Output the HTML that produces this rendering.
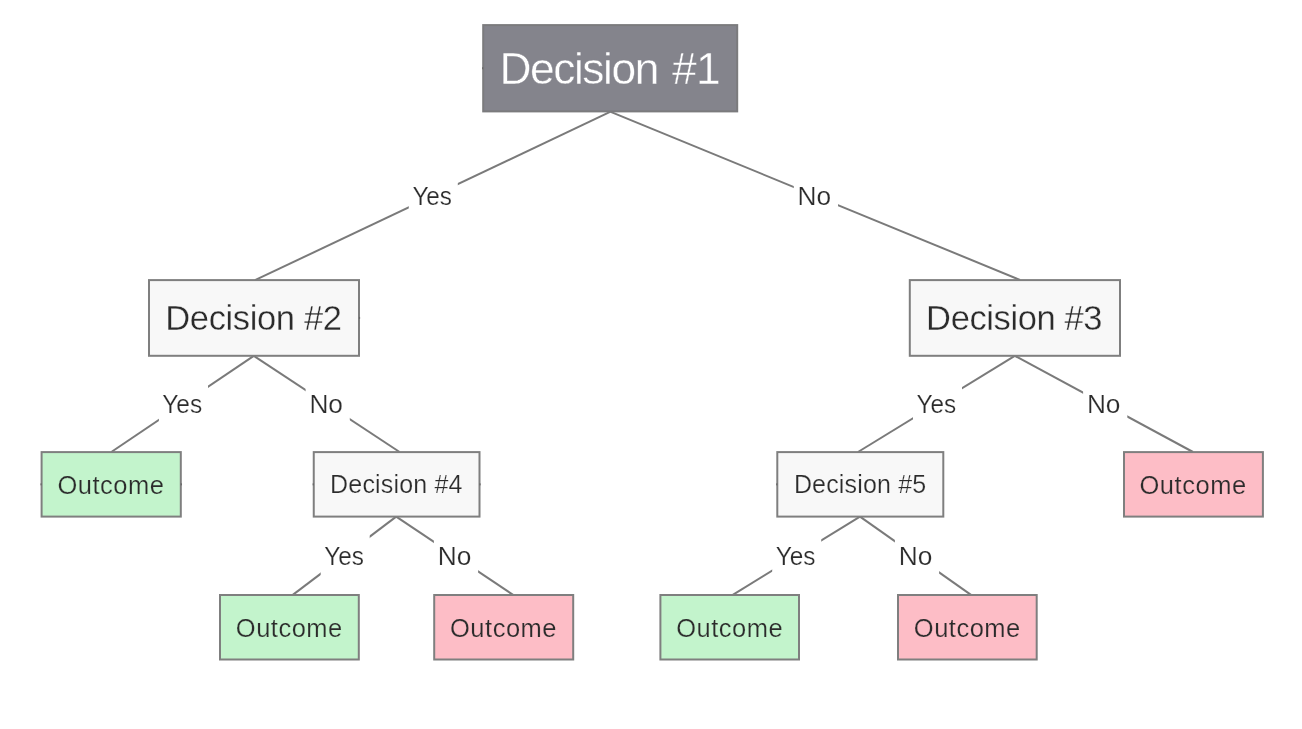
<!DOCTYPE html>
<html lang="en"><head><meta charset="utf-8"><title>Decision Tree</title>
<style>
html,body{margin:0;padding:0;background:#fff;}
body{width:1302px;height:729px;overflow:hidden;}
svg{display:block;will-change:transform;}
text{font-family:"Liberation Sans",sans-serif;}
</style></head><body>
<svg width="1302" height="729" viewBox="0 0 1302 729">
<rect width="1302" height="729" fill="#ffffff"/>
<g stroke="#7a7a7a" stroke-width="2.0" fill="none">
<line x1="610.1" y1="111.9" x2="255.0" y2="280.2"/>
<line x1="610.1" y1="111.6" x2="1020.0" y2="279.9"/>
<line x1="253.8" y1="355.8" x2="111.3" y2="452.0"/>
<line x1="253.8" y1="355.8" x2="399.6" y2="452.0"/>
<line x1="1014.8" y1="355.8" x2="858.0" y2="452.0"/>
<line x1="1014.8" y1="355.8" x2="1193.0" y2="452.0"/>
<line x1="396.2" y1="516.6" x2="292.8" y2="594.9"/>
<line x1="396.2" y1="516.6" x2="513.1" y2="594.9"/>
<line x1="860.0" y1="516.6" x2="732.8" y2="594.9"/>
<line x1="860.0" y1="516.6" x2="971.0" y2="594.9"/>
</g>
<rect x="408.8" y="173.8" width="49.0" height="44" fill="#ffffff"/>
<text x="412.40" y="204.70" font-size="26" fill="#2b2b2b" stroke="#ffffff" stroke-width="0.23" textLength="39.60" lengthAdjust="spacingAndGlyphs">Yes</text>
<rect x="793.8" y="173.8" width="44.2" height="44" fill="#ffffff"/>
<text x="797.60" y="204.70" font-size="26" fill="#2b2b2b" stroke="#ffffff" stroke-width="0.23" textLength="33.60" lengthAdjust="spacingAndGlyphs">No</text>
<rect x="158.9" y="382.0" width="49.1" height="44" fill="#ffffff"/>
<text x="162.30" y="412.90" font-size="26" fill="#2b2b2b" stroke="#ffffff" stroke-width="0.23" textLength="39.90" lengthAdjust="spacingAndGlyphs">Yes</text>
<rect x="305.6" y="382.0" width="44.2" height="44" fill="#ffffff"/>
<text x="309.40" y="412.90" font-size="26" fill="#2b2b2b" stroke="#ffffff" stroke-width="0.23" textLength="33.60" lengthAdjust="spacingAndGlyphs">No</text>
<rect x="913.0" y="382.0" width="49.0" height="44" fill="#ffffff"/>
<text x="916.50" y="412.90" font-size="26" fill="#2b2b2b" stroke="#ffffff" stroke-width="0.23" textLength="39.60" lengthAdjust="spacingAndGlyphs">Yes</text>
<rect x="1083.1" y="382.0" width="44.2" height="44" fill="#ffffff"/>
<text x="1086.90" y="412.90" font-size="26" fill="#2b2b2b" stroke="#ffffff" stroke-width="0.23" textLength="33.60" lengthAdjust="spacingAndGlyphs">No</text>
<rect x="320.7" y="533.8" width="49.0" height="44" fill="#ffffff"/>
<text x="324.20" y="564.70" font-size="26" fill="#2b2b2b" stroke="#ffffff" stroke-width="0.23" textLength="39.70" lengthAdjust="spacingAndGlyphs">Yes</text>
<rect x="433.9" y="533.8" width="44.2" height="44" fill="#ffffff"/>
<text x="437.70" y="564.70" font-size="26" fill="#2b2b2b" stroke="#ffffff" stroke-width="0.23" textLength="33.60" lengthAdjust="spacingAndGlyphs">No</text>
<rect x="772.2" y="533.8" width="49.0" height="44" fill="#ffffff"/>
<text x="775.70" y="564.70" font-size="26" fill="#2b2b2b" stroke="#ffffff" stroke-width="0.23" textLength="39.70" lengthAdjust="spacingAndGlyphs">Yes</text>
<rect x="894.9" y="533.8" width="44.2" height="44" fill="#ffffff"/>
<text x="898.70" y="564.70" font-size="26" fill="#2b2b2b" stroke="#ffffff" stroke-width="0.23" textLength="33.60" lengthAdjust="spacingAndGlyphs">No</text>
<rect x="483.20" y="25.10" width="254.00" height="86.30" fill="#84848c" stroke="#7b7b7d" stroke-width="2.0"/>
<text y="84.10" font-size="44.3" fill="#ffffff" stroke="#84848c" stroke-width="0.40"><tspan x="499.40" textLength="160.00" lengthAdjust="spacing">Decision</tspan><tspan> </tspan><tspan x="672.00">#</tspan><tspan x="696.00">1</tspan></text>
<rect x="149.00" y="280.10" width="210.00" height="75.70" fill="#f8f8f8" stroke="#7f7f7f" stroke-width="2.0"/>
<text x="165.30" y="330.20" font-size="34.5" fill="#2b2b2b" stroke="#f8f8f8" stroke-width="0.31" textLength="176.60" lengthAdjust="spacing">Decision #2</text>
<rect x="909.80" y="280.10" width="210.20" height="75.70" fill="#f8f8f8" stroke="#7f7f7f" stroke-width="2.0"/>
<text x="926.10" y="330.20" font-size="34.5" fill="#2b2b2b" stroke="#f8f8f8" stroke-width="0.31" textLength="176.40" lengthAdjust="spacing">Decision #3</text>
<rect x="41.60" y="452.10" width="139.20" height="64.50" fill="#c3f4cc" stroke="#7f7f7f" stroke-width="2.0"/>
<text x="57.40" y="493.90" font-size="25.5" fill="#2b2b2b" stroke="#c3f4cc" stroke-width="0.23" textLength="106.50" lengthAdjust="spacing">Outcome</text>
<rect x="313.75" y="452.10" width="165.75" height="64.50" fill="#f8f8f8" stroke="#7f7f7f" stroke-width="2.0"/>
<text x="330.10" y="493.30" font-size="25" fill="#2b2b2b" stroke="#f8f8f8" stroke-width="0.22" textLength="132.40" lengthAdjust="spacing">Decision #4</text>
<rect x="777.30" y="452.10" width="166.00" height="64.50" fill="#f8f8f8" stroke="#7f7f7f" stroke-width="2.0"/>
<text x="793.90" y="493.30" font-size="25" fill="#2b2b2b" stroke="#f8f8f8" stroke-width="0.22" textLength="132.20" lengthAdjust="spacing">Decision #5</text>
<rect x="1124.00" y="452.10" width="138.90" height="64.50" fill="#fdbdc6" stroke="#7f7f7f" stroke-width="2.0"/>
<text x="1139.50" y="493.90" font-size="25.5" fill="#2b2b2b" stroke="#fdbdc6" stroke-width="0.23" textLength="106.60" lengthAdjust="spacing">Outcome</text>
<rect x="220.00" y="595.00" width="138.80" height="64.50" fill="#c3f4cc" stroke="#7f7f7f" stroke-width="2.0"/>
<text x="235.80" y="636.50" font-size="25.5" fill="#2b2b2b" stroke="#c3f4cc" stroke-width="0.23" textLength="106.50" lengthAdjust="spacing">Outcome</text>
<rect x="434.20" y="595.00" width="139.00" height="64.50" fill="#fdbdc6" stroke="#7f7f7f" stroke-width="2.0"/>
<text x="450.00" y="636.50" font-size="25.5" fill="#2b2b2b" stroke="#fdbdc6" stroke-width="0.23" textLength="106.50" lengthAdjust="spacing">Outcome</text>
<rect x="660.40" y="595.00" width="138.60" height="64.50" fill="#c3f4cc" stroke="#7f7f7f" stroke-width="2.0"/>
<text x="676.20" y="636.50" font-size="25.5" fill="#2b2b2b" stroke="#c3f4cc" stroke-width="0.23" textLength="106.50" lengthAdjust="spacing">Outcome</text>
<rect x="898.00" y="595.00" width="138.70" height="64.50" fill="#fdbdc6" stroke="#7f7f7f" stroke-width="2.0"/>
<text x="913.80" y="636.50" font-size="25.5" fill="#2b2b2b" stroke="#fdbdc6" stroke-width="0.23" textLength="106.50" lengthAdjust="spacing">Outcome</text>
<g fill="#666666">
<rect x="482.10" y="67.25" width="1.2" height="2"/>
<rect x="358.90" y="316.95" width="1.2" height="2"/>
<rect x="40.50" y="483.35" width="1.2" height="2"/>
<rect x="180.70" y="483.35" width="1.2" height="2"/>
<rect x="312.65" y="483.35" width="1.2" height="2"/>
<rect x="479.40" y="483.35" width="1.2" height="2"/>
<rect x="776.20" y="483.35" width="1.2" height="2"/>
</g>
</svg></body></html>
